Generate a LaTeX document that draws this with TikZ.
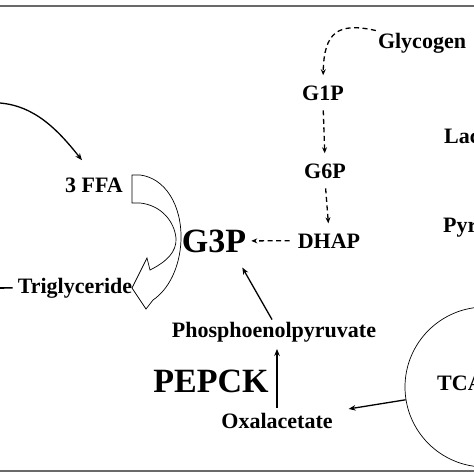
\documentclass[tikz,border=0pt]{standalone}
\usepackage{fontspec}
\setmainfont{Liberation Serif}
\usetikzlibrary{arrows.meta,calc}
\usepackage{xcolor}
\definecolor{FrameGray}{RGB}{105,105,105}
\tikzset{
  metab/.style={font=\fontsize{22}{24}\selectfont\bfseries, inner sep=2pt, anchor=base},
  bigmetab/.style={font=\fontsize{34}{36}\selectfont\bfseries, inner sep=2pt, anchor=base},
  arr/.style={-{Stealth[length=7pt,width=5.5pt]}, line width=1.3pt},
  dasharr/.style={-{Stealth[length=6pt,width=5pt]}, line width=1.3pt,
    dash pattern=on 5pt off 3.5pt},
  cycle circle/.style={draw, circle, line width=0.7pt, minimum size=160pt},
  framerule/.style={draw=FrameGray, line width=1.6pt}
}

\begin{document}
\begin{tikzpicture}[x=1pt,y=-1pt]
  \useasboundingbox (0,0) rectangle (474,474);
  \clip (0,0) rectangle (474,474);
  \draw[framerule] (0,6) -- (474,6);
  \draw[framerule] (0,471) -- (474,471);

  \draw[line width=0.7pt, fill=white] (132,175) -- (140,175)
    .. controls (165,178) and (182,205) .. (181,240)
    .. controls (180,268) and (168,290) .. (153,300)
    -- (146,309) -- (132,288) -- (147,258) -- (150,270)
    .. controls (166,262) and (177,252) .. (176,238)
    .. controls (174,220) and (160,205) .. (140,203)
    -- (132,203) -- cycle;

  \node[metab] (glyc) at (422,48) {Glycogen};
  \node[metab] (g1p) at (323,100) {G1P};
  \node[metab] (g6p) at (325,178) {G6P};
  \node[metab] (dhap) at (329,248) {DHAP};
  \node[bigmetab] (g3p) at (214,252) {G3P};
  \node[metab] (ffa) at (94,192) {3 FFA};
  \node[metab] (tg) at (75,293) {Triglyceride};
  \node[metab] (pep) at (274,337) {Phosphoenolpyruvate};
  \node[bigmetab] (pepck) at (211,392) {PEPCK};
  \node[metab] (oxa) at (277,428) {Oxalacetate};
  \node[metab, anchor=base west] (lac) at (442,143) {Lactate};
  \node[metab, anchor=base west] (pyr) at (441,232) {Pyruvate};
  \node[cycle circle] (tca) at (485,387) {};
  \node[metab, anchor=base west] (tcalbl) at (435,390) {TCA};

  \coordinate (fatin) at (0,103);
  \coordinate (tgin) at (0,288);
  \draw[arr] (fatin) .. controls (35,106) and (58,130) .. ($(ffa.north west)+(19,-15)$);
  \draw[line width=1.6pt, shorten >=3pt] (tgin) -- (tg.west);

  \draw[dasharr, shorten >=8pt] (glyc.north west) .. controls (338,22) and (324,32) .. (g1p.north);
  \draw[dasharr, shorten <=8pt, shorten >=8pt] (g1p.south) -- (g6p.north);
  \draw[dasharr, shorten <=8pt, shorten >=8pt] (g6p.south) -- (dhap.north);
  \draw[dasharr, shorten <=6pt, shorten >=3pt] (dhap) -- (g3p);

  \draw[arr] ([xshift=-2pt]pep.north) -- ($(g3p.south east)+(-6,13)$);
  \draw[arr, shorten <=3pt, shorten >=5pt] (oxa.north) -- (oxa.north |- pep.south);
  \draw[arr, shorten >=14pt] (tca) -- (oxa);
\end{tikzpicture}
\end{document}
